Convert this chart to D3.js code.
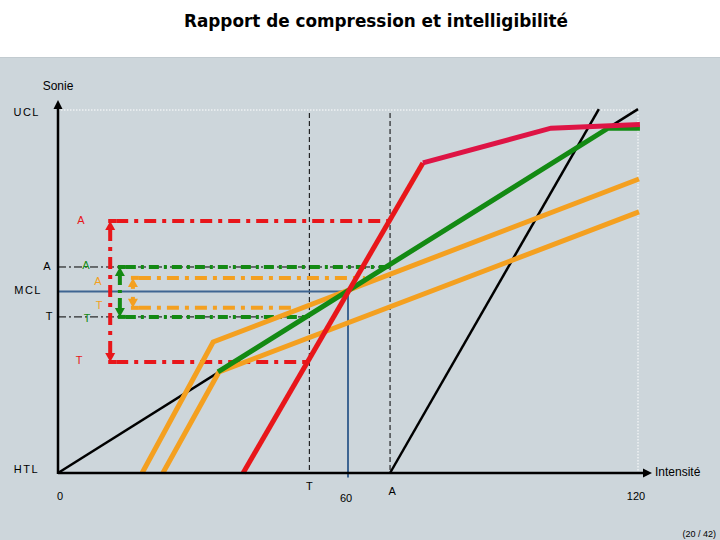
<!DOCTYPE html>
<html><head><meta charset="utf-8">
<script src="https://cdn.jsdelivr.net/npm/d3@7"></script>
<style>
html,body{margin:0;padding:0;background:#fff;}
svg{display:block;}
</style></head>
<body>
<svg id="chart" width="720" height="540"></svg>
<script>
// ---- data (Intensité, Sonie) ----
const xTicks = [0, 60, 120];
const levels = { HTL: 0, MCL: 60, UCL: 120 };
const thresholdT = 52;   // intensity of T
const thresholdA = 68.7; // intensity of A
const normalLine   = [[0, 0], [120, 120.3]];
const impairedLine = [[68.7, 0], [111.9, 120.3]];
const redSteep     = [[38.3, 0], [75.5, 102.5]];
const redUpper     = [[75.5, 102.5], [102, 114], [120.4, 115.2]];
const greenLine    = [[33.1, 33.4], [113.8, 114], [120.4, 114]];
const orangeUpper  = [[17.4, 0], [32.1, 43.3], [120.2, 97.2]];
const orangeLower  = [[21.7, 0], [33.3, 33.4], [120.2, 86.3]];
const blackLevels  = { A: 68.1, T: 51.6 };
const redRange     = { x: 10.8, A: 83.3, T: 36.7, endA: 68.7, endT: 51.4 };
const greenRange   = { x: 12.8, A: 68.1, T: 51.6, endA: 68.7, endT: 51.4 };
const orangeRange  = { x: 15.5, A: 64.5, T: 54.6, endA: 63.5, endT: 48.6 };

const svg = d3.select("#chart");
const W = 720, H = 540;
const C = { bg: "#cdd6db", red: "#e8161a", crimson: "#de1445", green: "#138a13",
            orange: "#f4a020", blue: "#3e6592", black: "#000" };

svg.append("rect").attr("width", W).attr("height", H).attr("fill", "#fff");
svg.append("rect").attr("x", 0).attr("y", 57).attr("width", W).attr("height", H - 57).attr("fill", C.bg);
svg.append("line").attr("x1", 0).attr("x2", W).attr("y1", 57.5).attr("y2", 57.5)
   .attr("stroke", "#c2cbd0").attr("stroke-width", 1);

svg.append("text").attr("x", 376).attr("y", 27).attr("text-anchor", "middle")
   .attr("font-family", "'DejaVu Sans Condensed','DejaVu Sans',sans-serif").attr("font-weight", "bold")
   .attr("font-size", 17).attr("textLength", 384).attr("lengthAdjust", "spacingAndGlyphs")
   .text("Rapport de compression et intelligibilité");

const x = d3.scaleLinear().domain([0, 120]).range([58, 638]);
const y = d3.scaleLinear().domain([0, 120]).range([473, 110]);
const line = d3.line().x(d => x(d[0])).y(d => y(d[1]));

const g = svg.append("g");
const font = "'Liberation Sans', Arial, sans-serif";

// white dotted UCL frame
g.append("path").attr("d", line([[0, levels.UCL], [120, levels.UCL], [120, levels.HTL]]))
 .attr("fill", "none").attr("stroke", "#fff").attr("stroke-width", 1).attr("stroke-dasharray", "1.5,1.5");

// vertical dashed thresholds
[thresholdT, thresholdA].forEach(t => {
  g.append("line").attr("x1", x(t)).attr("x2", x(t)).attr("y1", y(119)).attr("y2", y(0))
   .attr("stroke", "#000").attr("stroke-width", 1).attr("stroke-dasharray", "5,3");
});

// black thin dash-dot level lines
g.append("line").attr("x1", x(0)).attr("x2", x(thresholdA)).attr("y1", y(blackLevels.A)).attr("y2", y(blackLevels.A))
 .attr("stroke", "#000").attr("stroke-width", 1).attr("stroke-dasharray", "8,3,2,3");
g.append("line").attr("x1", x(0)).attr("x2", x(thresholdT)).attr("y1", y(blackLevels.T)).attr("y2", y(blackLevels.T))
 .attr("stroke", "#000").attr("stroke-width", 1).attr("stroke-dasharray", "8,3,2,3");

// blue MCL lines
g.append("path").attr("d", line([[0, levels.MCL], [60, levels.MCL], [60, -1.5]]))
 .attr("fill", "none").attr("stroke", C.blue).attr("stroke-width", 2);

// bracket: dashed horizontal + vertical double arrows
function bracket(r, color, dash, gap) {
  const xs = x(r.x);
  g.append("line").attr("x1", xs + 6).attr("x2", x(r.endA)).attr("y1", y(r.A)).attr("y2", y(r.A))
   .attr("stroke", color).attr("stroke-width", 4).attr("stroke-dasharray", dash);
  g.append("line").attr("x1", xs + 6).attr("x2", x(r.endT)).attr("y1", y(r.T)).attr("y2", y(r.T))
   .attr("stroke", color).attr("stroke-width", 4).attr("stroke-dasharray", dash);
  const yA = y(r.A), yT = y(r.T), mid = (yA + yT) / 2;
  g.append("line").attr("x1", xs).attr("x2", xs).attr("y1", yA + 8).attr("y2", gap ? mid - 4 : yT - 8)
   .attr("stroke", color).attr("stroke-width", 4).attr("stroke-dasharray", gap ? null : dash);
  if (gap) g.append("line").attr("x1", xs).attr("x2", xs).attr("y1", mid + 4).attr("y2", yT - 8)
   .attr("stroke", color).attr("stroke-width", 4);
  g.append("path").attr("d", `M${xs},${yA}L${xs - 5},${yA + 9}L${xs + 5},${yA + 9}Z`).attr("fill", color);
  g.append("path").attr("d", `M${xs},${yT}L${xs - 5},${yT - 9}L${xs + 5},${yT - 9}Z`).attr("fill", color);
  g.append("path").attr("d", `M${xs - 2},${yA}L${xs + 6},${yA}`).attr("stroke", color).attr("stroke-width", 4);
  g.append("path").attr("d", `M${xs - 2},${yT}L${xs + 6},${yT}`).attr("stroke", color).attr("stroke-width", 4);
}
bracket(redRange, C.red, "12,6,4,6", false);
bracket(greenRange, C.green, "10,5,3,5", false);
bracket(orangeRange, C.orange, "12,6,4,6", true);

// curves
function curve(data, color, w) {
  g.append("path").attr("d", line(data)).attr("fill", "none").attr("stroke", color)
   .attr("stroke-width", w).attr("stroke-linejoin", "miter");
}
curve(normalLine, C.black, 2.5);
curve(impairedLine, C.black, 2.5);
curve(orangeUpper, C.orange, 5);
curve(orangeLower, C.orange, 5);
curve(greenLine, C.green, 5);
curve(redSteep, C.red, 5);
curve(redUpper, C.crimson, 5);

// axes
const ax = svg.append("g");
ax.append("line").attr("x1", x(0)).attr("x2", 645).attr("y1", y(0)).attr("y2", y(0)).attr("stroke", "#000").attr("stroke-width", 2.5);
ax.append("path").attr("d", `M652,${y(0)}L643,${y(0) - 4.5}L643,${y(0) + 4.5}Z`).attr("fill", "#000");
ax.append("line").attr("x1", x(0)).attr("x2", x(0)).attr("y1", y(0) + 1).attr("y2", 106).attr("stroke", "#000").attr("stroke-width", 2.5);
ax.append("path").attr("d", `M${x(0)},100L${x(0) - 4.5},109L${x(0) + 4.5},109Z`).attr("fill", "#000");

function label(t, px, py, color, anchor, size, ls) {
  svg.append("text").attr("x", px).attr("y", py).attr("fill", color || "#000")
   .attr("text-anchor", anchor || "middle").attr("dominant-baseline", "middle")
   .attr("font-family", font).attr("font-size", size || 11)
   .attr("letter-spacing", ls || 0).text(t);
}
xTicks.forEach(v => label(String(v), x(v) + (v === 0 ? 2 : -2), v === 60 ? 499 : 497, "#000", "middle", 11));
label("T", x(thresholdT), 487);
label("A", x(thresholdA) + 2, 492);
label("Intensité", 655, 473, "#000", "start", 12);
label("Sonie", 58, 87, "#000", "middle", 12);
label("UCL", 40, y(levels.UCL) + 3, "#000", "end", 11, 1.5);
label("MCL", 42, y(levels.MCL), "#000", "end", 11, 1.5);
label("HTL", 39, y(levels.HTL) - 3, "#000", "end", 11, 1.5);
label("A", 47, y(blackLevels.A));
label("T", 49, y(blackLevels.T));
label("A", 81, y(redRange.A), C.red);
label("T", 79, y(redRange.T) - 1, C.red);
label("A", 86, y(greenRange.A) - 1, C.green);
label("T", 87, y(greenRange.T) + 2, C.green);
label("A", 98, y(orangeRange.A) + 4, C.orange);
label("T", 99, y(orangeRange.T) - 2, C.orange);
label("(20 / 42)", 716, 535, "#000", "end", 9);
</script>
</body></html>
